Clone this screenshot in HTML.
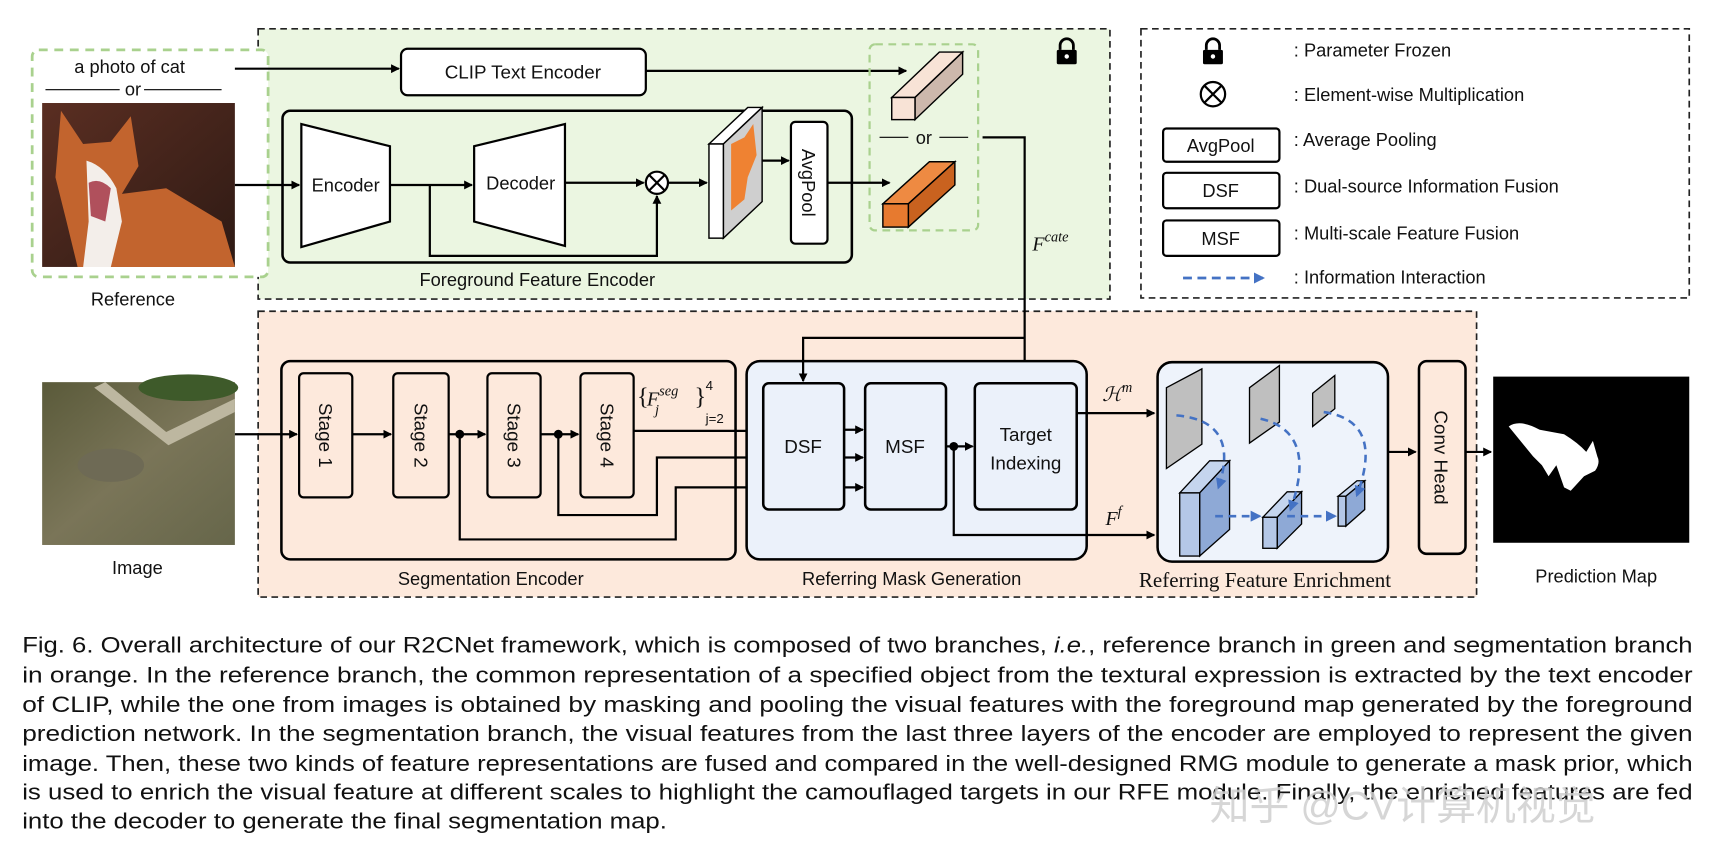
<!DOCTYPE html>
<html><head><meta charset="utf-8"><style>
html,body{margin:0;padding:0;background:#fff;}
svg{display:block;}
text{font-family:"Liberation Sans","Noto Sans CJK SC",sans-serif;fill:#111;}
.s{font-family:"Liberation Serif",serif;}
</style></head><body>
<svg width="1717" height="859" viewBox="0 0 1550 775.5" xmlns="http://www.w3.org/2000/svg">
<defs>
<marker id="a" markerWidth="8" markerHeight="8" refX="7" refY="4" orient="auto" markerUnits="userSpaceOnUse"><path d="M0,0 L8,4 L0,8 z" fill="#000"/></marker>
<marker id="b" markerWidth="10" markerHeight="10" refX="8" refY="5" orient="auto" markerUnits="userSpaceOnUse"><path d="M0,0 L10,5 L0,10 z" fill="#4472c4"/></marker>
<linearGradient id="bg" x1="0" y1="0" x2="1" y2="1"><stop offset="0" stop-color="#5a2e22"/><stop offset="1" stop-color="#2e1a14"/></linearGradient>
<linearGradient id="gr" x1="0" y1="0" x2="1" y2="1"><stop offset="0" stop-color="#5a5a3a"/><stop offset="0.5" stop-color="#7a7558"/><stop offset="1" stop-color="#66664a"/></linearGradient>
</defs>

<rect x="233" y="26" width="769" height="244" fill="#ebf6e1" stroke="#222" stroke-width="1.5" stroke-dasharray="6,4"/>
<rect x="233" y="281" width="1100" height="258" fill="#fde9dc" stroke="#222" stroke-width="1.5" stroke-dasharray="6,4"/>
<rect x="1030" y="26" width="495" height="243" fill="#fff" stroke="#222" stroke-width="1.5" stroke-dasharray="6,4"/>

<rect x="29" y="45" width="213" height="205" rx="6" fill="#fff" stroke="#a9d18e" stroke-width="2.5" stroke-dasharray="8,6"/>
<text x="117" y="66" font-size="16.5" text-anchor="middle">a photo of cat</text>
<line x1="41" y1="81" x2="108" y2="81" stroke="#000"/><line x1="130" y1="81" x2="200" y2="81" stroke="#000"/>
<text x="120" y="86" font-size="16.5" text-anchor="middle">or</text>
<rect x="38" y="93" width="174" height="148" fill="url(#bg)"/>
<path d="M55,100 L75,130 L100,128 L118,105 L125,150 L110,175 L150,170 L200,200 L212,241 L70,241 L60,200 L50,160 Z" fill="#c2642e"/>
<path d="M78,145 Q95,150 105,170 L110,200 L100,241 L75,241 L80,200 Z" fill="#f3eeea"/>
<path d="M80,165 Q90,160 100,170 L95,200 L82,195 Z" fill="#b0505c"/>
<text x="120" y="276" font-size="16.5" text-anchor="middle">Reference</text>

<rect x="38" y="345" width="174" height="147" fill="url(#gr)"/>
<path d="M95,345 L150,390 L212,360 L212,372 L152,402 L85,350 Z" fill="#bdb7a0"/>
<ellipse cx="170" cy="350" rx="45" ry="12" fill="#3e5a2a"/>
<ellipse cx="100" cy="420" rx="30" ry="15" fill="#6e6a55"/>
<text x="124" y="518" font-size="16.5" text-anchor="middle">Image</text>

<line x1="212" y1="62" x2="360" y2="62" stroke="#000" stroke-width="2" marker-end="url(#a)"/>
<rect x="362" y="44" width="221" height="42" rx="6" fill="#fff" stroke="#000" stroke-width="2"/>
<text x="472" y="71" font-size="17" text-anchor="middle">CLIP Text Encoder</text>
<line x1="583" y1="64" x2="818" y2="64" stroke="#000" stroke-width="2" marker-end="url(#a)"/>

<g transform="translate(963,47)"><path d="M-6,-2 V-6 A6,6 0 0 1 6,-6 V-2" fill="none" stroke="#000" stroke-width="2.5"/><rect x="-9" y="-2" width="18" height="13" rx="1.5" fill="#000"/><circle cx="0" cy="4" r="2" fill="#fff"/></g>

<rect x="785" y="40" width="98" height="168" rx="5" fill="none" stroke="#a9d18e" stroke-width="2" stroke-dasharray="7,5"/>
<polygon points="805,88 826,88 869,47 848,47" fill="#f8e3d6" stroke="#000" stroke-width="1.3"/>
<polygon points="826,88 826,108 869,67 869,47" fill="#cdb8ac" stroke="#000" stroke-width="1.3"/>
<rect x="805" y="88" width="21" height="20" fill="#f8e3d6" stroke="#000" stroke-width="1.3"/>
<text x="834" y="130" font-size="16.5" text-anchor="middle">or</text>
<line x1="794" y1="124" x2="820" y2="124" stroke="#000"/><line x1="848" y1="124" x2="874" y2="124" stroke="#000"/>
<polygon points="797,184 820,184 862,146 839,146" fill="#ee8a42" stroke="#000" stroke-width="1.3"/>
<polygon points="820,184 820,205 862,167 862,146" fill="#c9621f" stroke="#000" stroke-width="1.3"/>
<rect x="797" y="184" width="23" height="21" fill="#e77a2f" stroke="#000" stroke-width="1.3"/>

<polyline points="887,124 925,124 925,344" fill="none" stroke="#000" stroke-width="2" marker-end="url(#a)"/>
<text x="932" y="226" font-size="18" class="s" font-style="italic">F<tspan font-size="13" dy="-8">cate</tspan></text>

<rect x="255" y="100" width="514" height="137" rx="7" fill="none" stroke="#000" stroke-width="2.3"/>
<text x="485" y="258" font-size="16.5" text-anchor="middle">Foreground Feature Encoder</text>
<polygon points="272,112 352,132 352,200 272,223" fill="#fff" stroke="#000" stroke-width="2"/>
<text x="312" y="173" font-size="16.5" text-anchor="middle">Encoder</text>
<polygon points="428,132 510,112 510,222 428,200" fill="#fff" stroke="#000" stroke-width="2"/>
<text x="470" y="171" font-size="16.5" text-anchor="middle">Decoder</text>
<line x1="212" y1="167" x2="270" y2="167" stroke="#000" stroke-width="2" marker-end="url(#a)"/>
<line x1="352" y1="167" x2="426" y2="167" stroke="#000" stroke-width="2" marker-end="url(#a)"/>
<line x1="510" y1="165" x2="581" y2="165" stroke="#000" stroke-width="2" marker-end="url(#a)"/>
<polyline points="388,167 388,231 593,231 593,177" fill="none" stroke="#000" stroke-width="2" marker-end="url(#a)"/>
<circle cx="593" cy="165" r="10" fill="#fff" stroke="#000" stroke-width="2"/>
<path d="M586,158 L600,172 M600,158 L586,172" stroke="#000" stroke-width="2"/>
<line x1="603" y1="165" x2="638" y2="165" stroke="#000" stroke-width="2" marker-end="url(#a)"/>
<polygon points="640,130 653,130 688,97 675,97" fill="#fff" stroke="#000" stroke-width="1.3"/>
<polygon points="653,130 688,97 688,182 653,215" fill="#cfcfcf" stroke="#000" stroke-width="1.3"/>
<path d="M660,130 L672,124 L680,112 L683,140 L675,160 L672,180 L660,190 Z" fill="#ef8232"/>
<rect x="640" y="130" width="13" height="85" fill="#fff" stroke="#000" stroke-width="1.3"/>
<line x1="688" y1="145" x2="712" y2="145" stroke="#000" stroke-width="2" marker-end="url(#a)"/>
<rect x="714" y="110" width="33" height="110" rx="4" fill="#fff" stroke="#000" stroke-width="2"/>
<text transform="translate(724,165) rotate(90)" font-size="16.5" text-anchor="middle">AvgPool</text>
<line x1="747" y1="165" x2="803" y2="165" stroke="#000" stroke-width="2" marker-end="url(#a)"/>

<g transform="translate(1095,47)"><path d="M-6,-2 V-6 A6,6 0 0 1 6,-6 V-2" fill="none" stroke="#000" stroke-width="2.5"/><rect x="-9" y="-2" width="18" height="13" rx="1.5" fill="#000"/><circle cx="0" cy="4" r="2" fill="#fff"/></g>
<circle cx="1095" cy="85" r="11" fill="#fff" stroke="#000" stroke-width="2"/>
<path d="M1087,77 L1103,93 M1103,77 L1087,93" stroke="#000" stroke-width="2"/>
<rect x="1050" y="116" width="105" height="30" rx="3" fill="#fff" stroke="#000" stroke-width="2"/>
<text x="1102" y="137" font-size="16.5" text-anchor="middle">AvgPool</text>
<rect x="1050" y="156" width="105" height="32" rx="3" fill="#fff" stroke="#000" stroke-width="2"/>
<text x="1102" y="178" font-size="16.5" text-anchor="middle">DSF</text>
<rect x="1050" y="199" width="105" height="32" rx="3" fill="#fff" stroke="#000" stroke-width="2"/>
<text x="1102" y="221" font-size="16.5" text-anchor="middle">MSF</text>
<line x1="1068" y1="251" x2="1140" y2="251" stroke="#4472c4" stroke-width="2.5" stroke-dasharray="8,5" marker-end="url(#b)"/>
<g font-size="16.5">
<text x="1168" y="51">: Parameter Frozen</text>
<text x="1168" y="91">: Element-wise Multiplication</text>
<text x="1168" y="132">: Average Pooling</text>
<text x="1168" y="174">: Dual-source Information Fusion</text>
<text x="1168" y="216">: Multi-scale Feature Fusion</text>
<text x="1168" y="256">: Information Interaction</text>
</g>

<rect x="254" y="326" width="410" height="179" rx="8" fill="none" stroke="#000" stroke-width="2.3"/>
<text x="443" y="528" font-size="16.5" text-anchor="middle">Segmentation Encoder</text>
<line x1="212" y1="392" x2="268" y2="392" stroke="#000" stroke-width="2" marker-end="url(#a)"/>
<g fill="#fde9dc" stroke="#000" stroke-width="2">
<rect x="270" y="337" width="48" height="112" rx="4"/><rect x="355" y="337" width="50" height="112" rx="4"/>
<rect x="440" y="337" width="48" height="112" rx="4"/><rect x="524" y="337" width="48" height="112" rx="4"/>
</g>
<g font-size="17" text-anchor="middle">
<text transform="translate(288,393) rotate(90)">Stage 1</text>
<text transform="translate(374,393) rotate(90)">Stage 2</text>
<text transform="translate(458,393) rotate(90)">Stage 3</text>
<text transform="translate(542,393) rotate(90)">Stage 4</text>
</g>
<line x1="318" y1="392" x2="353" y2="392" stroke="#000" stroke-width="2" marker-end="url(#a)"/>
<line x1="405" y1="392" x2="438" y2="392" stroke="#000" stroke-width="2" marker-end="url(#a)"/>
<line x1="488" y1="392" x2="522" y2="392" stroke="#000" stroke-width="2" marker-end="url(#a)"/>
<circle cx="415" cy="392" r="4" fill="#000"/><circle cx="504" cy="392" r="4" fill="#000"/>
<line x1="572" y1="389" x2="687" y2="389" stroke="#000" stroke-width="2" marker-end="url(#a)"/>
<polyline points="504,392 504,465 593,465 593,413 687,413" fill="none" stroke="#000" stroke-width="2" marker-end="url(#a)"/>
<polyline points="415,392 415,487 610,487 610,440 687,440" fill="none" stroke="#000" stroke-width="2" marker-end="url(#a)"/>
<text x="575" y="365" font-size="22" class="s">{</text>
<text x="584" y="366" font-size="18" class="s" font-style="italic">F<tspan font-size="13" dy="-9">seg</tspan><tspan font-size="13" dx="-21" dy="17">j</tspan></text>
<text x="627" y="365" font-size="22" class="s">}</text>
<text x="637" y="352" font-size="12">4</text>
<text x="637" y="382" font-size="12">j=2</text>

<rect x="674" y="326" width="307" height="179" rx="12" fill="#ebf1fa" stroke="#000" stroke-width="2.3"/>
<text x="823" y="528" font-size="16.5" text-anchor="middle">Referring Mask Generation</text>
<rect x="689" y="346" width="73" height="114" rx="5" fill="#ebf1fa" stroke="#000" stroke-width="2.3"/>
<rect x="781" y="346" width="73" height="114" rx="5" fill="#ebf1fa" stroke="#000" stroke-width="2.3"/>
<rect x="880" y="346" width="92" height="114" rx="5" fill="#ebf1fa" stroke="#000" stroke-width="2.3"/>
<text x="725" y="409" font-size="17" text-anchor="middle">DSF</text>
<text x="817" y="409" font-size="17" text-anchor="middle">MSF</text>
<text x="926" y="398" font-size="17" text-anchor="middle">Target</text>
<text x="926" y="424" font-size="17" text-anchor="middle">Indexing</text>
<polyline points="925,305 725,305 725,344" fill="none" stroke="#000" stroke-width="2" marker-end="url(#a)"/>
<line x1="762" y1="388" x2="779" y2="388" stroke="#000" stroke-width="2" marker-end="url(#a)"/>
<line x1="762" y1="413" x2="779" y2="413" stroke="#000" stroke-width="2" marker-end="url(#a)"/>
<line x1="762" y1="440" x2="779" y2="440" stroke="#000" stroke-width="2" marker-end="url(#a)"/>
<line x1="854" y1="403" x2="878" y2="403" stroke="#000" stroke-width="2" marker-end="url(#a)"/>
<circle cx="861" cy="403" r="4" fill="#000"/>
<polyline points="861,403 861,483 1042,483" fill="none" stroke="#000" stroke-width="2" marker-end="url(#a)"/>
<line x1="972" y1="373" x2="1042" y2="373" stroke="#000" stroke-width="2" marker-end="url(#a)"/>
<text x="995" y="362" font-size="18" class="s" font-style="italic">ℋ<tspan font-size="13" dy="-8">m</tspan></text>
<text x="998" y="474" font-size="18" class="s" font-style="italic">F<tspan font-size="13" dy="-8">f</tspan></text>

<rect x="1045" y="327" width="208" height="180" rx="13" fill="#eef3fb" stroke="#000" stroke-width="2.3"/>
<text x="1142" y="530" font-size="19" class="s" text-anchor="middle">Referring Feature Enrichment</text>
<g stroke="#000" stroke-width="1.2">
<polygon points="1053,350 1085,333 1085,401 1053,423" fill="#bfbfbf"/>
<polygon points="1128,350 1155,330 1155,381 1128,400" fill="#bfbfbf"/>
<polygon points="1185,355 1205,339 1205,369 1185,385" fill="#bfbfbf"/>
<polygon points="1065,445 1092,416 1110,416 1083,445" fill="#c5d5ee"/>
<polygon points="1083,445 1110,416 1110,478 1083,502" fill="#8ea9d6"/>
<rect x="1065" y="445" width="18" height="57" fill="#b4c7e7"/>
<polygon points="1140,467 1162,444 1175,444 1153,467" fill="#c5d5ee"/>
<polygon points="1153,467 1175,444 1175,473 1153,495" fill="#8ea9d6"/>
<rect x="1140" y="467" width="13" height="28" fill="#b4c7e7"/>
<polygon points="1208,448 1225,434 1232,434 1215,448" fill="#c5d5ee"/>
<polygon points="1215,448 1232,434 1232,460 1215,475" fill="#8ea9d6"/>
<rect x="1208" y="448" width="7" height="27" fill="#b4c7e7"/>
</g>
<g fill="none" stroke="#4472c4" stroke-width="2.3" stroke-dasharray="7,5">
<path d="M1062,375 Q1120,380 1100,440" marker-end="url(#b)"/>
<path d="M1138,378 Q1190,390 1165,460" marker-end="url(#b)"/>
<path d="M1195,372 Q1250,380 1225,447" marker-end="url(#b)"/>
<line x1="1097" y1="466" x2="1137" y2="466" marker-end="url(#b)"/>
<line x1="1162" y1="466" x2="1205" y2="466" marker-end="url(#b)"/>
</g>
<line x1="1253" y1="408" x2="1278" y2="408" stroke="#000" stroke-width="2" marker-end="url(#a)"/>
<rect x="1281" y="326" width="42" height="174" rx="7" fill="#fde9dc" stroke="#000" stroke-width="2.3"/>
<text transform="translate(1295,413) rotate(90)" font-size="17" text-anchor="middle">Conv Head</text>
<line x1="1323" y1="408" x2="1346" y2="408" stroke="#000" stroke-width="2" marker-end="url(#a)"/>
<rect x="1348" y="340" width="177" height="150" fill="#000"/>
<path d="M1362,385 Q1372,378 1390,388 L1412,392 Q1425,400 1432,408 L1438,398 L1442,412 Q1445,418 1440,425 L1430,430 L1418,443 L1412,440 L1405,420 L1398,430 L1392,420 L1384,412 Z" fill="#fff"/>
<text x="1441" y="526" font-size="16.5" text-anchor="middle">Prediction Map</text>

<g font-size="20">
<text x="20" y="589" textLength="1508" lengthAdjust="spacingAndGlyphs">Fig. 6.  Overall architecture of our R2CNet framework, which is composed of two branches, <tspan font-style="italic">i.e.</tspan>, reference branch in green and segmentation branch</text>
<text x="20" y="616" textLength="1508" lengthAdjust="spacingAndGlyphs">in orange. In the reference branch, the common representation of a specified object from the textural expression is extracted by the text encoder</text>
<text x="20" y="643" textLength="1508" lengthAdjust="spacingAndGlyphs">of CLIP, while the one from images is obtained by masking and pooling the visual features with the foreground map generated by the foreground</text>
<text x="20" y="669" textLength="1508" lengthAdjust="spacingAndGlyphs">prediction network. In the segmentation branch, the visual features from the last three layers of the encoder are employed to represent the given</text>
<text x="20" y="696" textLength="1508" lengthAdjust="spacingAndGlyphs">image. Then, these two kinds of feature representations are fused and compared in the well-designed RMG module to generate a mask prior, which</text>
<text x="20" y="722" textLength="1508" lengthAdjust="spacingAndGlyphs">is used to enrich the visual feature at different scales to highlight the camouflaged targets in our RFE module. Finally, the enriched features are fed</text>
<text x="20" y="748" textLength="582" lengthAdjust="spacingAndGlyphs">into the decoder to generate the final segmentation map.</text>
</g>
<text x="1092" y="740" font-size="36" style="fill:#d0d0d0;opacity:0.85">知乎 @CV计算机视觉</text>
</svg>
</body></html>
